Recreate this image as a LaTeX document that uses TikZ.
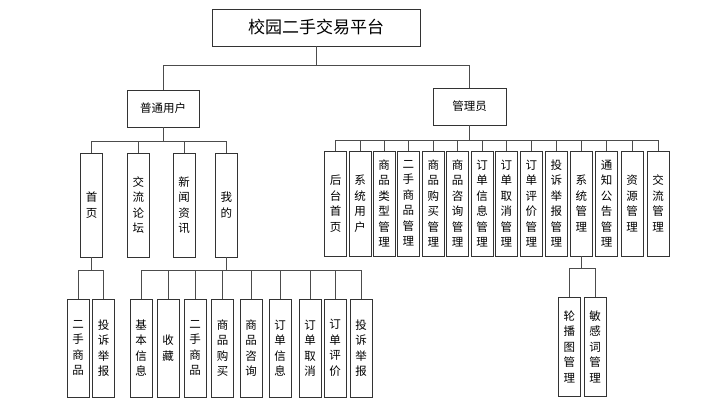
\documentclass[tikz,border=0pt]{standalone}
\usepackage{fontspec}
\newfontfamily\cjk{Noto Sans CJK SC}
\begin{document}
\begin{tikzpicture}[x=1pt,y=-1pt,
  box/.style={draw=black!80,line width=0.9pt,fill=white,inner sep=0pt,align=center,font=\cjk\fontsize{11.5}{15.5}\selectfont},
  vbox/.style={box,minimum width=22pt,minimum height=#1},
  conn/.style={draw=black!70,line width=0.9pt}]
\useasboundingbox (0,0) rectangle (706,412);
% root
\node[box,minimum width=208pt,minimum height=37pt,font=\cjk\fontsize{17}{20}\selectfont] (root) at (316,27.5) {校园二手交易平台};
\node[box,minimum width=72pt,minimum height=37pt] (pu) at (163,108.5) {普通用户};
\node[box,minimum width=73pt,minimum height=37pt] (ad) at (469.5,106.5) {管理员};
\coordinate (b1) at (0,65);
\draw[conn] (root.south) -- (root.south |- b1) -| (pu.north);
\draw[conn] (root.south |- b1) -| (ad.north);
% user level
\coordinate (b2) at (0,141);
\node[vbox=104pt] (sy) at (91.7,205) {首\\页};
\node[vbox=104pt] (jl) at (138.3,205) {交\\流\\论\\坛};
\node[vbox=104pt] (xw) at (184,205) {新\\闻\\资\\讯};
\node[vbox=104pt] (wd) at (226.3,205) {我\\的};
\foreach \n in {sy,jl,xw,wd}{\draw[conn] (pu.south) -- (pu.south |- b2) -| (\n.north);}
% 首页 children
\coordinate (b3) at (0,270.5);
\node[vbox=98pt] (s1) at (78,348) {二\\手\\商\\品};
\node[vbox=98pt] (s2) at (103.5,348) {投\\诉\\举\\报};
\foreach \n in {s1,s2}{\draw[conn] (sy.south) -- (sy.south |- b3) -| (\n.north);}
% 我的 children
\node[vbox=98pt] (w1) at (141,348) {基\\本\\信\\息};
\node[vbox=98pt] (w2) at (168,348) {收\\藏};
\node[vbox=98pt] (w3) at (195,348) {二\\手\\商\\品};
\node[vbox=98pt] (w4) at (222.5,348) {商\\品\\购\\买};
\node[vbox=98pt] (w5) at (251,348) {商\\品\\咨\\询};
\node[vbox=98pt] (w6) at (280,348) {订\\单\\信\\息};
\node[vbox=98pt] (w7) at (310,348) {订\\单\\取\\消};
\node[vbox=98pt] (w8) at (335,348) {订\\单\\评\\价};
\node[vbox=98pt] (w9) at (361,348) {投\\诉\\举\\报};
\foreach \n in {w1,w2,w3,w4,w5,w6,w7,w8,w9}{\draw[conn] (wd.south) -- (wd.south |- b3) -| (\n.north);}
% admin children
\coordinate (b4) at (0,140);
\node[vbox=105pt] (a1) at (335.5,203.5) {后\\台\\首\\页};
\node[vbox=105pt] (a2) at (360,203.5) {系\\统\\用\\户};
\node[vbox=105pt] (a3) at (384,203.5) {商\\品\\类\\型\\管\\理};
\node[vbox=105pt] (a4) at (408.3,203.5) {二\\手\\商\\品\\管\\理};
\node[vbox=105pt] (a5) at (433.3,203.5) {商\\品\\购\\买\\管\\理};
\node[vbox=105pt] (a6) at (457.7,203.5) {商\\品\\咨\\询\\管\\理};
\node[vbox=105pt] (a7) at (482.2,203.5) {订\\单\\信\\息\\管\\理};
\node[vbox=105pt] (a8) at (506.3,203.5) {订\\单\\取\\消\\管\\理};
\node[vbox=105pt] (a9) at (531.3,203.5) {订\\单\\评\\价\\管\\理};
\node[vbox=105pt] (a10) at (556.3,203.5) {投\\诉\\举\\报\\管\\理};
\node[vbox=105pt] (a11) at (581.3,203.5) {系\\统\\管\\理};
\node[vbox=105pt] (a12) at (606.7,203.5) {通\\知\\公\\告\\管\\理};
\node[vbox=105pt] (a13) at (632,203.5) {资\\源\\管\\理};
\node[vbox=105pt] (a14) at (658,203.5) {交\\流\\管\\理};
\foreach \n in {a1,a2,a3,a4,a5,a6,a7,a8,a9,a10,a11,a12,a13,a14}{\draw[conn] (ad.south) -- (ad.south |- b4) -| (\n.north);}
% 系统管理 children
\coordinate (b5) at (0,268);
\node[vbox=99pt] (x1) at (569.3,346.5) {轮\\播\\图\\管\\理};
\node[vbox=99pt] (x2) at (595,346.5) {敏\\感\\词\\管\\理};
\foreach \n in {x1,x2}{\draw[conn] (a11.south) -- (a11.south |- b5) -| (\n.north);}
\end{tikzpicture}
\end{document}
